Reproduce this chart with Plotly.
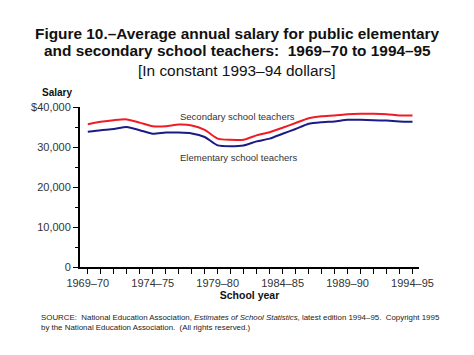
import plotly.graph_objects as go

years = ["1969–70","1970–71","1971–72","1972–73","1973–74","1974–75","1975–76","1976–77",
         "1977–78","1978–79","1979–80","1980–81","1981–82","1982–83","1983–84","1984–85",
         "1985–86","1986–87","1987–88","1988–89","1989–90","1990–91","1991–92","1992–93",
         "1993–94","1994–95"]
secondary = [35700,36300,36700,36900,36100,35200,35200,35600,35400,34300,32100,31800,31800,
             32900,33700,34800,36000,37200,37700,37900,38200,38300,38300,38200,37900,37900]
elementary = [33800,34200,34500,35000,34200,33300,33600,33600,33400,32500,30400,30200,30400,
              31400,32100,33300,34500,35800,36200,36400,36800,36800,36700,36600,36400,36300]
x_labels = ["1969–70","1974–75","1979–80","1984–85","1989–90","1994–95"]
y_ticks = [0,10000,20000,30000,40000]
y_ticktext = ["0","10,000","20,000","30,000","$40,000"]

FONT = "Arial, Liberation Sans, sans-serif"
idx = list(range(len(years)))

# page has an 8px body margin; figure coordinates below are page pixels minus 8
OFF = 8
L, T, PW, PH = 80 - OFF, 107 - OFF, 339, 160
W, H = 474 - OFF, 355 - OFF

def py(page_y):
    return 1 - (page_y - OFF - T) / PH

def px(page_x):
    return (page_x - OFF - L) / PW

fig = go.Figure()
fig.add_trace(go.Scatter(x=idx, y=secondary, mode="lines",
                         line=dict(color="#ee1c25", width=2, shape="spline", smoothing=0.6),
                         name="Secondary school teachers"))
fig.add_trace(go.Scatter(x=idx, y=elementary, mode="lines",
                         line=dict(color="#1b1b86", width=2, shape="spline", smoothing=0.6),
                         name="Elementary school teachers"))

fig.update_layout(
    width=W, height=H,
    margin=dict(l=L, r=W - L - PW, t=T, b=H - T - PH, autoexpand=False),
    paper_bgcolor="white", plot_bgcolor="white",
    showlegend=False,
    font=dict(family=FONT, color="#222"),
)
fig.update_xaxes(
    range=[-0.6, 25.5], showgrid=False, zeroline=False,
    showline=True, linecolor="black", linewidth=2,
    tickmode="array", tickvals=idx,
    ticktext=[y if y in x_labels else "" for y in years],
    ticks="outside", ticklen=5, tickwidth=1, tickcolor="black",
    tickfont=dict(size=11, color="#333"),
    title=dict(text="<b>School year</b>", font=dict(size=10.5, color="#111"), standoff=2),
)
fig.update_yaxes(
    range=[0, 40000], showgrid=False, zeroline=False,
    showline=True, linecolor="black", linewidth=2,
    tickmode="array", tickvals=y_ticks, ticktext=y_ticktext,
    ticks="outside", ticklen=5, tickwidth=1, tickcolor="black",
    tickfont=dict(size=11, color="#333"),
    minor=dict(tickvals=[5000,15000,25000,35000], ticks="outside", ticklen=3, tickcolor="black"),
)

titles = [
    ("<b>Figure 10.–Average annual salary for public elementary</b>", 33),
    ("<b>and secondary school teachers:  1969–70 to 1994–95</b>", 50),
    ("[In constant 1993–94 dollars]", 71),
]
for text, yy in titles:
    fig.add_annotation(text=text, xref="paper", yref="paper",
                       x=px(237), y=py(yy), xanchor="center", yanchor="middle",
                       showarrow=False, font=dict(size=15.4, color="#111", family=FONT))

fig.add_annotation(text="<b>Salary</b>", xref="paper", yref="paper",
                   x=px(40), y=py(92), xanchor="left", yanchor="middle",
                   showarrow=False, font=dict(size=10, color="#111", family=FONT))
fig.add_annotation(text="Secondary school teachers", xref="x", yref="paper",
                   x=(178 - 87.7) / 13, y=py(116), xanchor="left", yanchor="middle",
                   showarrow=False, font=dict(size=9.5, color="#333", family=FONT))
fig.add_annotation(text="Elementary school teachers", xref="x", yref="paper",
                   x=(178 - 87.7) / 13, y=py(157), xanchor="left", yanchor="middle",
                   showarrow=False, font=dict(size=9.5, color="#333", family=FONT))
fig.add_annotation(
    text="SOURCE:  National Education Association, <i>Estimates of School Statistics</i>, latest edition 1994–95.  Copyright 1995<br>by the National Education Association.  (All rights reserved.)",
    xref="paper", yref="paper", x=px(39), y=py(322.5),
    xanchor="left", yanchor="middle", align="left", showarrow=False,
    font=dict(size=7.9, color="#222", family=FONT))

fig.write_html("out.html")
